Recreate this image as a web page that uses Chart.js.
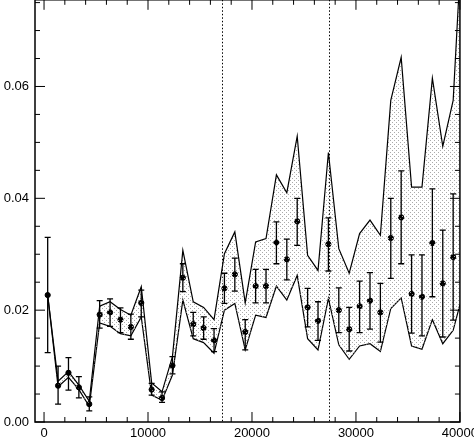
<!DOCTYPE html>
<html>
<head>
<meta charset="utf-8">
<script src="https://cdn.jsdelivr.net/npm/chart.js@4"></script>
<style>
  body { margin: 0; overflow: hidden; background: #fff; }
  #wrap { position: absolute; left: -8px; top: -14px; width: 490px; height: 453px; }
</style>
</head>
<body>
<div id="wrap"><canvas id="c"></canvas></div>
<script>
// data
const xs = [];
for (let i = 0; i < 40; i++) xs.push(350 + 1000 * i);
const mean = [0.0227, 0.0065, 0.0088, 0.0062, 0.0032, 0.0192, 0.0196, 0.0183, 0.0170, 0.0213,
  0.0058, 0.0043, 0.0101, 0.0258, 0.0175, 0.0168, 0.0146, 0.0239, 0.0264, 0.0161,
  0.0243, 0.0243, 0.0321, 0.0291, 0.0359, 0.0205, 0.0181, 0.0318, 0.0200, 0.0166,
  0.0207, 0.0217, 0.0196, 0.0329, 0.0366, 0.0229, 0.0224, 0.0320, 0.0248, 0.0295];
const errHi = [0.0330, 0.0100, 0.0115, 0.0081, 0.0045, 0.0217, 0.0220, 0.0204, 0.0193, 0.0236,
  0.0069, 0.0054, 0.0117, 0.0283, 0.0196, 0.0188, 0.0167, 0.0266, 0.0293, 0.0183,
  0.0273, 0.0273, 0.0358, 0.0327, 0.0400, 0.0239, 0.0215, 0.0365, 0.0240, 0.0205,
  0.0252, 0.0267, 0.0248, 0.0400, 0.0449, 0.0299, 0.0299, 0.0417, 0.0343, 0.0408];
const errLo = [0.0124, 0.0032, 0.0057, 0.0043, 0.0020, 0.0168, 0.0171, 0.0160, 0.0148, 0.0188,
  0.0048, 0.0035, 0.0086, 0.0233, 0.0154, 0.0148, 0.0126, 0.0212, 0.0234, 0.0129,
  0.0213, 0.0213, 0.0283, 0.0254, 0.0316, 0.0170, 0.0146, 0.0270, 0.0160, 0.0127,
  0.0160, 0.0166, 0.0143, 0.0257, 0.0283, 0.0159, 0.0154, 0.0224, 0.0152, 0.0182];
const bandHi = [0.0227, 0.0073, 0.0090, 0.0066, 0.0037, 0.0207, 0.0215, 0.0201, 0.0191, 0.0242,
  0.0070, 0.0054, 0.0117, 0.0307, 0.0215, 0.0205, 0.0183, 0.0301, 0.0340, 0.0213,
  0.0322, 0.0328, 0.0442, 0.0410, 0.0511, 0.0298, 0.0271, 0.0482, 0.0310, 0.0266,
  0.0337, 0.0361, 0.0334, 0.0575, 0.0652, 0.0420, 0.0420, 0.0615, 0.0493, 0.0575, 0.0800];
const bandLo = [0.0227, 0.0063, 0.0080, 0.0058, 0.0028, 0.0177, 0.0171, 0.0158, 0.0154, 0.0188,
  0.0048, 0.0039, 0.0084, 0.0218, 0.0149, 0.0142, 0.0123, 0.0200, 0.0212, 0.0129,
  0.0191, 0.0187, 0.0243, 0.0218, 0.0262, 0.0149, 0.0129, 0.0221, 0.0138, 0.0112,
  0.0136, 0.0140, 0.0126, 0.0203, 0.0222, 0.0136, 0.0130, 0.0183, 0.0140, 0.0164, 0.0210];
const bandX = xs.concat([40000]);
const vlines = [17150, 27450];
const yTicks = [0, 0.02, 0.04, 0.06];
const xTicks = [0, 10000, 20000, 30000, 40000];

// dotted fill pattern
const pc = document.createElement('canvas');
pc.width = 4; pc.height = 4;
const pctx = pc.getContext('2d');
pctx.fillStyle = '#aaa';
pctx.fillRect(0, 0, 1, 1);
pctx.fillRect(2, 2, 1, 1);
const dots = pctx.createPattern(pc, 'repeat');

const font = { family: 'Liberation Sans', size: 13 };

const extras = {
  id: 'extras',
  beforeDatasetsDraw(chart) {
    const { ctx, chartArea: a, scales: { x } } = chart;
    ctx.save();
    ctx.strokeStyle = '#000';
    ctx.lineWidth = 1;
    ctx.setLineDash([1.5, 2]);
    vlines.forEach(v => {
      const px = Math.round(x.getPixelForValue(v)) + 0.5;
      ctx.beginPath(); ctx.moveTo(px, a.top); ctx.lineTo(px, a.bottom); ctx.stroke();
    });
    ctx.restore();
  },
  afterDatasetsDraw(chart) {
    const { ctx, chartArea: a, scales: { x, y } } = chart;
    ctx.save();
    ctx.strokeStyle = '#000';
    ctx.lineWidth = 1.3;
    xs.forEach((v, i) => {
      const px = x.getPixelForValue(v);
      const t = y.getPixelForValue(errHi[i]), b = y.getPixelForValue(errLo[i]);
      ctx.beginPath();
      ctx.moveTo(px, t); ctx.lineTo(px, b);
      ctx.moveTo(px - 3, t); ctx.lineTo(px + 3, t);
      ctx.moveTo(px - 3, b); ctx.lineTo(px + 3, b);
      ctx.stroke();
    });
    // inward ticks
    ctx.lineWidth = 1;
    for (let v = 0; v <= 0.075; v += 0.005) {
      const py = y.getPixelForValue(v);
      const len = Math.abs(v / 0.02 - Math.round(v / 0.02)) < 1e-6 ? 10 : 5;
      ctx.beginPath();
      ctx.moveTo(a.left, py); ctx.lineTo(a.left + len, py);
      ctx.moveTo(a.right, py); ctx.lineTo(a.right - len, py);
      ctx.stroke();
    }
    for (let v = 0; v <= 40000; v += 2000) {
      const px = x.getPixelForValue(v);
      const len = v % 10000 === 0 ? 10 : 5;
      ctx.beginPath();
      ctx.moveTo(px, a.bottom); ctx.lineTo(px, a.bottom - len);
      ctx.moveTo(px, a.top); ctx.lineTo(px, a.top + len);
      ctx.stroke();
    }
    ctx.lineWidth = 1.5;
    ctx.strokeRect(a.left, a.top, a.right - a.left, a.bottom - a.top);
    ctx.restore();
  }
};

new Chart(document.getElementById('c'), {
  type: 'scatter',
  data: {
    datasets: [
      {
        data: bandX.map((v, i) => ({ x: v, y: bandHi[i] })),
        showLine: true, borderColor: '#000', borderWidth: 1.2, pointRadius: 0,
        fill: '+1', backgroundColor: dots, tension: 0
      },
      {
        data: bandX.map((v, i) => ({ x: v, y: bandLo[i] })),
        showLine: true, borderColor: '#000', borderWidth: 1.2, pointRadius: 0,
        fill: false, tension: 0
      },
      {
        data: xs.map((v, i) => ({ x: v, y: mean[i] })),
        pointRadius: 2.6, pointBackgroundColor: '#000', pointBorderColor: '#000'
      }
    ]
  },
  options: {
    responsive: true,
    maintainAspectRatio: false,
    animation: false,
    layout: { padding: { right: 21, left: 0, top: 0, bottom: 0 } },
    plugins: { legend: { display: false }, tooltip: { enabled: false } },
    scales: {
      x: {
        type: 'linear', min: -870, max: 40000,
        afterFit(s) { s.height = 17; },
        afterBuildTicks(s) { s.ticks = xTicks.map(v => ({ value: v })); },
        grid: { display: false, drawTicks: false },
        border: { display: false },
        ticks: { font, color: '#000', padding: 4, maxRotation: 0, autoSkip: false, callback: v => String(v) }
      },
      y: {
        min: 0, max: 0.0755,
        afterFit(s) { s.width = 43; },
        afterBuildTicks(s) { s.ticks = yTicks.map(v => ({ value: v })); },
        grid: { display: false, drawTicks: false },
        border: { display: false },
        ticks: { font, color: '#000', padding: 6, callback: v => v.toFixed(2) }
      }
    }
  },
  plugins: [extras]
});
</script>
</body>
</html>
